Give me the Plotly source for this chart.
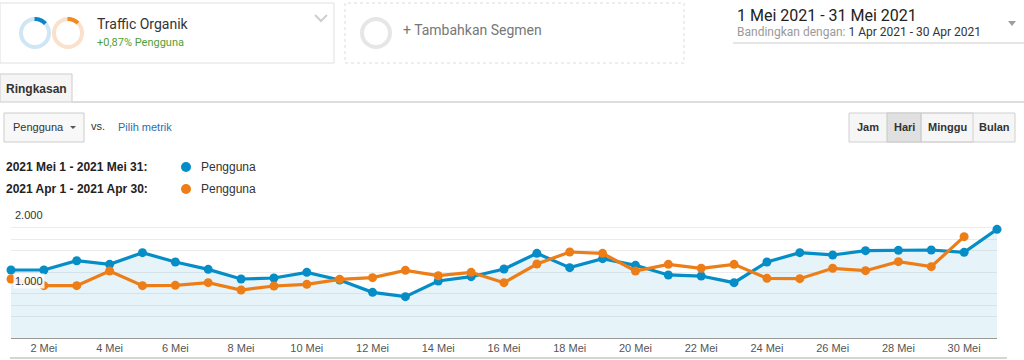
import math
import plotly.graph_objects as go

# ---- data ----
days_may = list(range(1, 32))
users_may = [1030, 1030, 1171, 1116, 1293, 1152, 1040, 894, 909, 995,
             879, 692, 626, 864, 929, 1045, 1283, 1066, 1202, 1101,
             955, 939, 838, 1152, 1293, 1258, 1323, 1328, 1333, 1298, 1646]
days_apr = list(range(1, 31))
users_apr = [894, 793, 793, 1015, 793, 798, 838, 727, 788, 813,
             889, 914, 1025, 944, 995, 838, 1121, 1303, 1283, 1015,
             1116, 1056, 1116, 904, 899, 1056, 1020, 1157, 1081, 1535]
x_tick_vals = list(range(2, 31, 2))
x_tick_text = [f"{d} Mei" for d in x_tick_vals]
y_label_vals = [1000, 2000]
y_label_text = ["1.000", "2.000"]
y_grid_vals = [333, 500, 667, 1000, 1333, 1500, 1667, 2000]

BLUE = "#058dc7"
ORANGE = "#ed7e17"

# plot area in pixels
L, R, T, B = 11, 997, 206, 338
W, H = 1024, 360


def px(x):
    return (x - L) / (R - L)


def py(y):
    return (B - y) / (B - T)


fig = go.Figure()
fig.add_trace(go.Scatter(
    x=days_may, y=users_may, mode="lines+markers",
    line=dict(color=BLUE, width=3.2), marker=dict(color=BLUE, size=9),
    fill="tozeroy", fillcolor="rgba(5,141,199,0.10)", cliponaxis=False,
    name="2021 Mei 1 - 2021 Mei 31", showlegend=False))
fig.add_trace(go.Scatter(
    x=days_apr, y=users_apr, mode="lines+markers",
    line=dict(color=ORANGE, width=3.2), marker=dict(color=ORANGE, size=9),
    cliponaxis=False, name="2021 Apr 1 - 2021 Apr 30", showlegend=False))

shapes = []
annotations = []

AR = "Arial, 'Liberation Sans', sans-serif"
RB = "Roboto, Arial, sans-serif"


def text(x, y, s, size=12, color="#333", family=AR, anchor="left", bold=False):
    if bold:
        s = f"<b>{s}</b>"
    annotations.append(dict(xref="paper", yref="paper", x=px(x), y=py(y), text=s,
                            showarrow=False, xanchor=anchor, yanchor="middle",
                            font=dict(size=size, color=color, family=family)))


def rect(x0, y0, x1, y1, line="#ddd", fill=None, lw=1, dash=None):
    d = dict(type="rect", xref="paper", yref="paper", x0=px(x0), x1=px(x1),
             y0=py(y1), y1=py(y0), line=dict(color=line, width=lw), layer="above")
    if dash:
        d["line"]["dash"] = dash
    if fill:
        d["fillcolor"] = fill
    shapes.append(d)


def hline(x0, x1, y, color="#ddd", lw=1):
    shapes.append(dict(type="line", xref="paper", yref="paper", x0=px(x0), x1=px(x1),
                       y0=py(y), y1=py(y), line=dict(color=color, width=lw), layer="above"))


def circle(cx, cy, r, line=None, lw=0, fill=None):
    d = dict(type="circle", xref="paper", yref="paper", x0=px(cx - r), x1=px(cx + r),
             y0=py(cy + r), y1=py(cy - r), layer="above",
             line=dict(color=line or "rgba(0,0,0,0)", width=lw))
    if fill:
        d["fillcolor"] = fill
    shapes.append(d)


def arc(cx, cy, r, a0, a1, color, lw):
    n = 20
    pts = []
    for i in range(n + 1):
        a = math.radians(a0 + (a1 - a0) * i / n)
        pts.append((px(cx + r * math.cos(a)), py(cy - r * math.sin(a))))
    path = "M " + " L ".join(f"{x:.5f},{y:.5f}" for x, y in pts)
    shapes.append(dict(type="path", xref="paper", yref="paper", path=path,
                       line=dict(color=color, width=lw), layer="above"))


def poly(points, fill, line=None, lw=0):
    path = "M " + " L ".join(f"{px(x):.5f},{py(y):.5f}" for x, y in points)
    d = dict(type="path", xref="paper", yref="paper", path=path, layer="above",
             line=dict(color=line or "rgba(0,0,0,0)", width=lw))
    if fill:
        path += " Z"
        d["path"] = path
        d["fillcolor"] = fill
    shapes.append(d)


# --- header: segment box 1 ---
rect(0, 3, 334, 63, line="#e0e0e0")
circle(35, 33, 14, line="#cfe6f5", lw=4)
arc(35, 33, 14, 92, 42, "#0a86c8", 4)
circle(68, 33, 14, line="#fbe1cb", lw=4)
arc(68, 33, 14, 92, 45, "#f08a1e", 4)
text(95, 24, "Traffic Organik", size=14, color="#333", family=RB)
text(95, 42, "+0,87% Pengguna", size=11, color="#4f9f3a", family=RB)
poly([(315, 15), (321, 21), (327, 15)], None, line="#cfcfcf", lw=2)

# --- segment box 2 ---
rect(345, 3, 684, 63, line="#dcdcdc", dash="3px,3px")
circle(376, 33, 14, line="#e6e6e6", lw=4)
text(401, 30, "+ Tambahkan Segmen", size=14, color="#777", family=RB)

# --- date range ---
text(735, 15, "1 Mei 2021 - 31 Mei 2021", size=16, color="#222", family=RB)
text(735, 32, "<span style='color:#9a9a9a'>Bandingkan dengan:</span> 1 Apr 2021 - 30 Apr 2021",
     size=12, color="#333", family=RB)
hline(733, 1024, 43, color="#e6e6e6", lw=2)
poly([(1008, 21), (1016, 21), (1012, 26)], "#9e9e9e")

# --- tab ---
rect(0, 74, 72, 102, line="#cccccc", fill="#f5f5f5")
text(4, 89, "Ringkasan", size=12, color="#333", bold=True)
hline(72, 1024, 102, color="#dddddd", lw=2)

# --- metric selector ---
rect(4, 113, 84, 142, line="#cccccc", fill="#f8f8f8")
text(11, 127, "Pengguna", size=11, color="#333")
poly([(70, 126), (76, 126), (73, 129)], "#555")
text(89, 126, "vs.", size=11, color="#333")
text(116, 127, "Pilih metrik", size=11, color="#2a6db0")

# --- interval buttons ---
rect(849, 113, 1015, 142, line="#d0d0d0", fill="#f6f6f6")
rect(887, 113, 921, 142, line="#c8c8c8", fill="#e0e0e0")
rect(921, 113, 973, 142, line="#d0d0d0")
for label, cx in [("Jam", 868), ("Hari", 904), ("Minggu", 947), ("Bulan", 994)]:
    text(cx, 127, label, size=11, color="#333", anchor="center", bold=True)

# --- legend ---
text(4, 167, "2021 Mei 1 - 2021 Mei 31:", size=12, color="#222", bold=True)
circle(186, 167, 5, fill=BLUE)
text(199, 167, "Pengguna", size=12, color="#333")
text(4, 189, "2021 Apr 1 - 2021 Apr 30:", size=12, color="#222", bold=True)
circle(186, 189, 5, fill=ORANGE)
text(199, 189, "Pengguna", size=12, color="#333")

# --- bottom rule ---
hline(10, 1007, 358, color="#d5d5d5", lw=2)

# --- y labels inside plot ---
for v, s in zip(y_label_vals, y_label_text):
    annotations.append(dict(xref="paper", yref="y", x=0, y=v, xanchor="left", yanchor="top",
                            xshift=2, yshift=-1, text=s, showarrow=False,
                            bgcolor="rgba(255,255,255,0.85)", borderpad=1,
                            font=dict(size=11, color="#333", family=AR)))

fig.update_layout(
    width=W, height=H,
    margin=dict(l=L, r=W - R, t=T, b=H - B, pad=0, autoexpand=False),
    paper_bgcolor="white", plot_bgcolor="white",
    shapes=shapes, annotations=annotations,
    xaxis=dict(range=[1, 31], tickvals=x_tick_vals, ticktext=x_tick_text,
               showgrid=False, zeroline=False, showline=True, linecolor="#9a9a9a",
               linewidth=1, ticks="", automargin=False,
               tickfont=dict(size=11, color="#555", family=AR)),
    yaxis=dict(range=[0, 2000], tickvals=y_grid_vals, showticklabels=False,
               showgrid=True, gridcolor="rgba(0,0,0,0.075)", gridwidth=1,
               zeroline=False, showline=False, automargin=False),
)

fig.write_html("out.html", config={"displayModeBar": False},
               post_script="document.body.style.margin='0';document.body.style.overflow='hidden';")
